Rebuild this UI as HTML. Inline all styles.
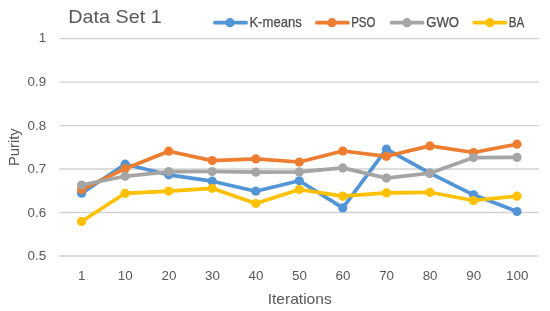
<!DOCTYPE html>
<html><head><meta charset="utf-8"><title>Data Set 1</title>
<style>
html,body{margin:0;padding:0;background:#fff;}
svg{display:block;filter:blur(0.35px);}
text{font-family:"Liberation Sans",sans-serif;fill:#595959;}
</style></head><body>
<svg width="550" height="311" viewBox="0 0 550 311">
<rect x="0" y="0" width="550" height="311" fill="#ffffff"/>
<line x1="59.3" y1="38.7" x2="538.8" y2="38.7" stroke="#D2D2D2" stroke-width="1.3"/>
<line x1="59.3" y1="82.1" x2="538.8" y2="82.1" stroke="#D2D2D2" stroke-width="1.3"/>
<line x1="59.3" y1="125.6" x2="538.8" y2="125.6" stroke="#D2D2D2" stroke-width="1.3"/>
<line x1="59.3" y1="169.0" x2="538.8" y2="169.0" stroke="#D2D2D2" stroke-width="1.3"/>
<line x1="59.3" y1="212.5" x2="538.8" y2="212.5" stroke="#D2D2D2" stroke-width="1.3"/>
<line x1="59.3" y1="256.0" x2="538.8" y2="256.0" stroke="#D2D2D2" stroke-width="1.3"/>
 <text x="46.1" y="42.4" font-size="13.4" text-anchor="end">1</text>
 <text x="46.1" y="86.1" font-size="13.4" text-anchor="end">0.9</text>
 <text x="46.1" y="129.6" font-size="13.4" text-anchor="end">0.8</text>
 <text x="46.1" y="173.0" font-size="13.4" text-anchor="end">0.7</text>
 <text x="46.1" y="216.5" font-size="13.4" text-anchor="end">0.6</text>
 <text x="46.1" y="260.0" font-size="13.4" text-anchor="end">0.5</text>
<text x="81.8" y="279.5" font-size="13.4" text-anchor="middle">1</text>
<text x="125.3" y="279.5" font-size="13.4" text-anchor="middle">10</text>
<text x="168.9" y="279.5" font-size="13.4" text-anchor="middle">20</text>
<text x="212.4" y="279.5" font-size="13.4" text-anchor="middle">30</text>
<text x="256.0" y="279.5" font-size="13.4" text-anchor="middle">40</text>
<text x="299.5" y="279.5" font-size="13.4" text-anchor="middle">50</text>
<text x="343.0" y="279.5" font-size="13.4" text-anchor="middle">60</text>
<text x="386.6" y="279.5" font-size="13.4" text-anchor="middle">70</text>
<text x="430.1" y="279.5" font-size="13.4" text-anchor="middle">80</text>
<text x="473.7" y="279.5" font-size="13.4" text-anchor="middle">90</text>
<text x="517.2" y="279.5" font-size="13.4" text-anchor="middle">100</text>
<text x="68.3" y="23.3" font-size="18.5" textLength="93.4" lengthAdjust="spacingAndGlyphs">Data Set 1</text>
<text x="267.7" y="303.7" font-size="14.8" textLength="64" lengthAdjust="spacingAndGlyphs">Iterations</text>
<text transform="translate(18.5,166.1) rotate(-90)" font-size="14" textLength="37.8" lengthAdjust="spacingAndGlyphs">Purity</text>
<polyline points="81.6,193.2 125.1,164.2 168.7,174.8 212.2,181.2 255.8,191.2 299.3,180.8 342.8,207.9 386.4,149.2 429.9,173.2 473.5,194.8 517.0,211.5" fill="none" stroke="#5295D6" stroke-width="3.7" stroke-linejoin="round" stroke-linecap="round"/>
<circle cx="81.6" cy="193.2" r="4.6" fill="#5295D6"/>
<circle cx="125.1" cy="164.2" r="4.6" fill="#5295D6"/>
<circle cx="168.7" cy="174.8" r="4.6" fill="#5295D6"/>
<circle cx="212.2" cy="181.2" r="4.6" fill="#5295D6"/>
<circle cx="255.8" cy="191.2" r="4.6" fill="#5295D6"/>
<circle cx="299.3" cy="180.8" r="4.6" fill="#5295D6"/>
<circle cx="342.8" cy="207.9" r="4.6" fill="#5295D6"/>
<circle cx="386.4" cy="149.2" r="4.6" fill="#5295D6"/>
<circle cx="429.9" cy="173.2" r="4.6" fill="#5295D6"/>
<circle cx="473.5" cy="194.8" r="4.6" fill="#5295D6"/>
<circle cx="517.0" cy="211.5" r="4.6" fill="#5295D6"/>
<polyline points="81.6,189.6 125.1,168.7 168.7,151.2 212.2,160.6 255.8,158.9 299.3,162.0 342.8,151.0 386.4,156.3 429.9,145.9 473.5,152.5 517.0,144.2" fill="none" stroke="#ED7D31" stroke-width="3.7" stroke-linejoin="round" stroke-linecap="round"/>
<circle cx="81.6" cy="189.6" r="4.6" fill="#ED7D31"/>
<circle cx="125.1" cy="168.7" r="4.6" fill="#ED7D31"/>
<circle cx="168.7" cy="151.2" r="4.6" fill="#ED7D31"/>
<circle cx="212.2" cy="160.6" r="4.6" fill="#ED7D31"/>
<circle cx="255.8" cy="158.9" r="4.6" fill="#ED7D31"/>
<circle cx="299.3" cy="162.0" r="4.6" fill="#ED7D31"/>
<circle cx="342.8" cy="151.0" r="4.6" fill="#ED7D31"/>
<circle cx="386.4" cy="156.3" r="4.6" fill="#ED7D31"/>
<circle cx="429.9" cy="145.9" r="4.6" fill="#ED7D31"/>
<circle cx="473.5" cy="152.5" r="4.6" fill="#ED7D31"/>
<circle cx="517.0" cy="144.2" r="4.6" fill="#ED7D31"/>
<polyline points="81.6,185.0 125.1,176.3 168.7,171.6 212.2,171.5 255.8,172.2 299.3,171.9 342.8,167.9 386.4,178.1 429.9,173.2 473.5,157.6 517.0,157.4" fill="none" stroke="#A5A5A5" stroke-width="3.7" stroke-linejoin="round" stroke-linecap="round"/>
<circle cx="81.6" cy="185.0" r="4.6" fill="#A5A5A5"/>
<circle cx="125.1" cy="176.3" r="4.6" fill="#A5A5A5"/>
<circle cx="168.7" cy="171.6" r="4.6" fill="#A5A5A5"/>
<circle cx="212.2" cy="171.5" r="4.6" fill="#A5A5A5"/>
<circle cx="255.8" cy="172.2" r="4.6" fill="#A5A5A5"/>
<circle cx="299.3" cy="171.9" r="4.6" fill="#A5A5A5"/>
<circle cx="342.8" cy="167.9" r="4.6" fill="#A5A5A5"/>
<circle cx="386.4" cy="178.1" r="4.6" fill="#A5A5A5"/>
<circle cx="429.9" cy="173.2" r="4.6" fill="#A5A5A5"/>
<circle cx="473.5" cy="157.6" r="4.6" fill="#A5A5A5"/>
<circle cx="517.0" cy="157.4" r="4.6" fill="#A5A5A5"/>
<polyline points="81.6,221.5 125.1,193.3 168.7,191.1 212.2,188.3 255.8,203.5 299.3,189.5 342.8,196.2 386.4,192.9 429.9,192.3 473.5,200.5 517.0,196.2" fill="none" stroke="#FFC000" stroke-width="3.7" stroke-linejoin="round" stroke-linecap="round"/>
<circle cx="81.6" cy="221.5" r="4.6" fill="#FFC000"/>
<circle cx="125.1" cy="193.3" r="4.6" fill="#FFC000"/>
<circle cx="168.7" cy="191.1" r="4.6" fill="#FFC000"/>
<circle cx="212.2" cy="188.3" r="4.6" fill="#FFC000"/>
<circle cx="255.8" cy="203.5" r="4.6" fill="#FFC000"/>
<circle cx="299.3" cy="189.5" r="4.6" fill="#FFC000"/>
<circle cx="342.8" cy="196.2" r="4.6" fill="#FFC000"/>
<circle cx="386.4" cy="192.9" r="4.6" fill="#FFC000"/>
<circle cx="429.9" cy="192.3" r="4.6" fill="#FFC000"/>
<circle cx="473.5" cy="200.5" r="4.6" fill="#FFC000"/>
<circle cx="517.0" cy="196.2" r="4.6" fill="#FFC000"/>
<line x1="214.9" y1="22.7" x2="246.1" y2="22.7" stroke="#5295D6" stroke-width="3.7" stroke-linecap="round"/>
<circle cx="230.0" cy="22.7" r="4.6" fill="#5295D6"/>
<text x="249.4" y="27.2" font-size="13.8" textLength="52.4" lengthAdjust="spacingAndGlyphs" style="fill:#4d4d4d;stroke:#4d4d4d;stroke-width:0.25">K-means</text>
<line x1="316.9" y1="22.7" x2="348.0" y2="22.7" stroke="#ED7D31" stroke-width="3.7" stroke-linecap="round"/>
<circle cx="331.9" cy="22.7" r="4.6" fill="#ED7D31"/>
<text x="351.2" y="27.2" font-size="13.8" textLength="24.3" lengthAdjust="spacingAndGlyphs" style="fill:#4d4d4d;stroke:#4d4d4d;stroke-width:0.25">PSO</text>
<line x1="391.5" y1="22.7" x2="422.7" y2="22.7" stroke="#A5A5A5" stroke-width="3.7" stroke-linecap="round"/>
<circle cx="407.0" cy="22.7" r="4.6" fill="#A5A5A5"/>
<text x="426.2" y="27.2" font-size="13.8" textLength="32.8" lengthAdjust="spacingAndGlyphs" style="fill:#4d4d4d;stroke:#4d4d4d;stroke-width:0.25">GWO</text>
<line x1="474.3" y1="22.7" x2="505.5" y2="22.7" stroke="#FFC000" stroke-width="3.7" stroke-linecap="round"/>
<circle cx="489.8" cy="22.7" r="4.6" fill="#FFC000"/>
<text x="508.8" y="27.2" font-size="13.8" textLength="15.6" lengthAdjust="spacingAndGlyphs" style="fill:#4d4d4d;stroke:#4d4d4d;stroke-width:0.25">BA</text>
</svg>
</body></html>
